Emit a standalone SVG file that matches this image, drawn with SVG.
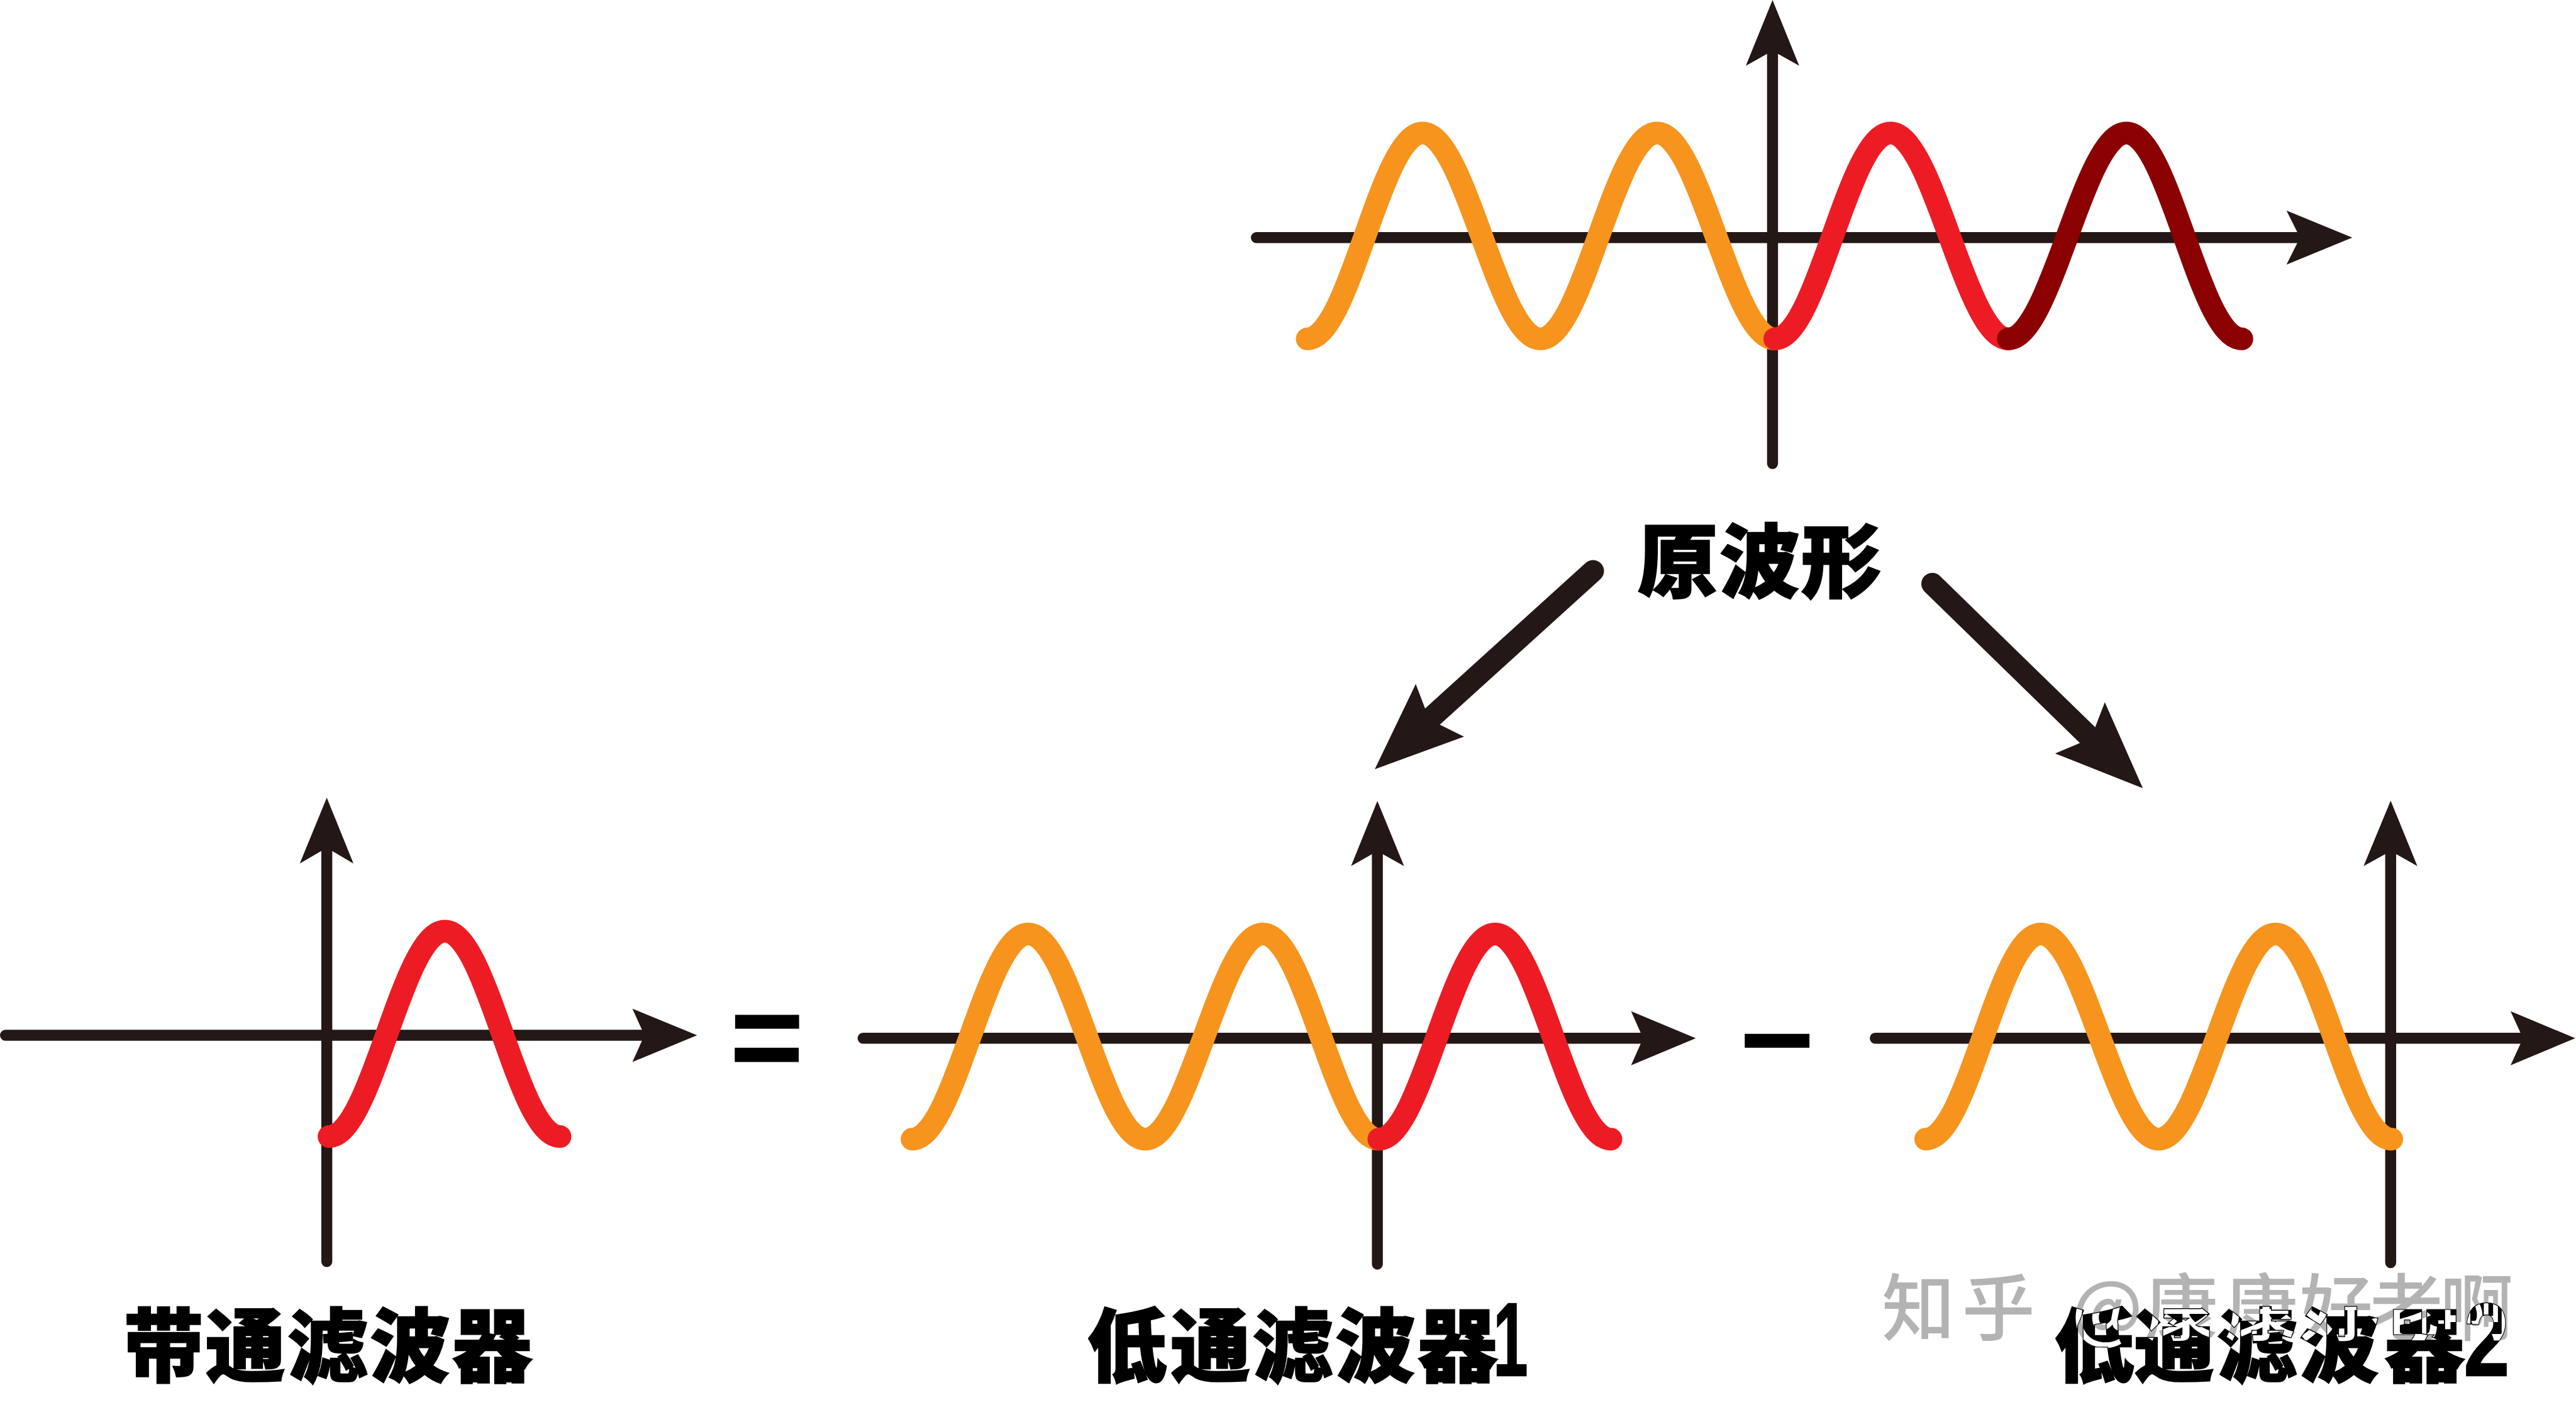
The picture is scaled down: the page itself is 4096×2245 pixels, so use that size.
<svg xmlns="http://www.w3.org/2000/svg" xmlns:xlink="http://www.w3.org/1999/xlink" width="4096" height="2245" viewBox="0 0 4096 2245">
<style>
.ax{fill:none;stroke:#231815;stroke-width:30;stroke-linecap:round}
.hd{fill:#231815;stroke:none}
.w{fill:none;stroke-width:62;stroke-linecap:round;stroke-linejoin:round}
.o{stroke:#F7941E}.r{stroke:#ED1C24}.d{stroke:#8B0000}
.big{fill:none;stroke:#231815;stroke-width:60;stroke-linecap:round}
.sym{fill:#000}
.lbl{font-family:"Noto Sans CJK SC",sans-serif;font-weight:900;font-size:219px;fill:#000;stroke:#000;stroke-width:4}
.dg{font-family:"Liberation Sans",sans-serif;font-weight:700;font-size:285px}
.wm{font-family:"Noto Sans CJK SC",sans-serif;font-weight:500;font-size:200px}
</style>
<defs>
<clipPath id="lblClip"><use href="#lbl-lp2"/></clipPath>
</defs>
<rect width="4096" height="2245" fill="#fff"/>
<g transform="scale(0.58124)">
<g id="plot-original">
<path class="ax" d="M4849 120V1268M3437 650H6300"/>
<polygon class="hd" points="4849,0 4776,180 4849,139 4922,180"/>
<polygon class="hd" points="6435,650 6255,576 6292,650 6255,724"/>
<path class="w o" d="M3576 927C3693 927 3775 364 3892 364S4097 927 4214 927S4416 364 4533 364S4738 927 4855 927"/>
<path class="w r" d="M4855 927C4972 927 5055 364 5172 364S5377 927 5494 927"/>
<path class="w d" d="M5494 927C5611 927 5700 364 5817 364S6016 927 6133 927"/>
</g>
<g id="label-original"><text class="lbl" y="1618" x="4480 4704 4928">原波形</text></g>
<g id="connectors">
<path class="big" d="M4358 1562L3910 1968"/>
<polygon class="hd" points="3761,2104 3873,1871 3910,1968 4005,2015"/>
<path class="big" d="M5286 1597L5717 2017"/>
<polygon class="hd" points="5862,2156 5758,1921 5720,2020 5622,2061"/>
</g>
<g id="plot-bandpass">
<path class="ax" d="M894 2300V3451M15 2832H1780"/>
<polygon class="hd" points="894,2182 820,2362 894,2319 967,2362"/>
<polygon class="hd" points="1907,2832 1730,2759 1763,2832 1730,2905"/>
<path class="w r" d="M900 3109C1017 3109 1100 2547 1217 2547S1415 3109 1532 3109"/>
</g>
<g id="label-bandpass"><text class="lbl" y="3763" x="338 562 787 1012 1237">带通滤波器</text></g>
<g id="sym-equals"><rect class="sym" x="2011" y="2776" width="175" height="38"/><rect class="sym" x="2010" y="2866" width="175" height="39"/></g>
<g id="plot-lowpass1">
<path class="ax" d="M3768 2300V3458M2361 2840H4520"/>
<polygon class="hd" points="3768,2191 3696,2369 3768,2328 3841,2369"/>
<polygon class="hd" points="4639,2840 4462,2766 4495,2840 4462,2914"/>
<path class="w o" d="M2495 3116C2612 3116 2696 2555 2813 2555S3016 3116 3133 3116S3338 2555 3455 2555S3655 3116 3772 3116"/>
<path class="w r" d="M3772 3116C3889 3116 3973 2555 4090 2555S4290 3116 4407 3116"/>
</g>
<g id="label-lowpass1"><text class="lbl" y="3763" x="2974 3202 3427 3653 3878">低通滤波器<tspan class="dg" x="4085" textLength="95" lengthAdjust="spacingAndGlyphs">1</tspan></text></g>
<g id="sym-minus"><rect class="sym" x="4773" y="2828" width="177" height="38"/></g>
<g id="plot-lowpass2">
<path class="ax" d="M6540 2300V3454M5130 2840H6930"/>
<polygon class="hd" points="6540,2190 6466,2369 6540,2328 6613,2369"/>
<polygon class="hd" points="7045,2840 6868,2766 6902,2840 6868,2914"/>
<path class="w o" d="M5268 3116C5385 3116 5466 2555 5583 2555S5788 3116 5905 3116S6108 2555 6225 2555S6426 3116 6543 3116"/>
</g>
<g id="watermark" fill="#b3b3b3"><text id="wm" class="wm" y="3650" x="5148 5367 5600 5667 5867 6086 6291 6483 6675" stroke="none">知乎 @康康好老啊</text></g>
<g id="label-lowpass2"><text id="lbl-lp2" class="lbl" y="3763" x="5620 5839 6065 6290 6523">低通滤波器<tspan class="dg" x="6740" textLength="125" lengthAdjust="spacingAndGlyphs">2</tspan></text></g>
<use href="#wm" fill="#fff" clip-path="url(#lblClip)"/>
</g>
</svg>
